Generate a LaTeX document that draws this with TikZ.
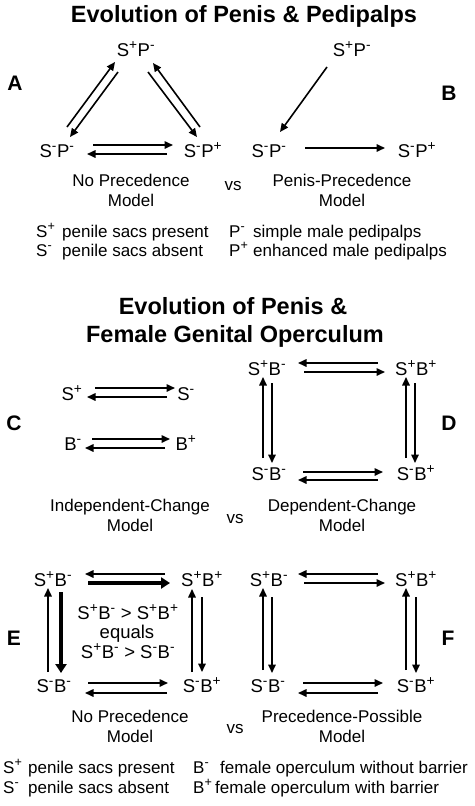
\documentclass[tikz,border=0pt]{standalone}
\usepackage{fontspec}
\setmainfont{Liberation Sans}
\usetikzlibrary{arrows.meta,calc}
\DeclareMathSizes{18.5}{18.5}{13.7}{10}
\DeclareMathSizes{17}{17}{12.6}{9}
\newcommand{\xplus}{\textsuperscript{+}}
\newcommand{\xminus}{\textsuperscript{-}}
\tikzset{
  txt/.style={font=\fontsize{17}{19.5}\selectfont, inner sep=0pt},
  st/.style={font=\fontsize{18.5}{19.5}\selectfont, inner sep=0pt, anchor=base},
  ml/.style={txt, align=center, anchor=center},
  vsn/.style={txt, anchor=base},
  ttl/.style={font=\bfseries\fontsize{23.5}{28}\selectfont, inner sep=0pt, anchor=base},
  plt/.style={font=\bfseries\fontsize{21}{24}\selectfont, inner sep=0pt, anchor=base},
  lg/.style={txt, anchor=base west},
  arr/.style={line width=1.6pt, -{Triangle[length=8.5pt,width=7.5pt]}},
  tarr/.style={line width=4.6pt, -{Triangle[length=9pt,width=11pt]}}
}
\begin{document}
\begin{tikzpicture}[x=1pt,y=-1pt]
\fill[white] (0,0) rectangle (474,806);
\useasboundingbox (0,0) rectangle (474,806);

% ---------- Titles and panel letters ----------
\node[ttl] (t1) at (244,22) {Evolution of Penis \& Pedipalps};
\node[ttl] (t2) at (233,314) {Evolution of Penis \&};
\node[ttl] (t3) at (235,342) {Female Genital Operculum};
\node[plt] (pA) at (15,90) {A};
\node[plt] (pB) at (449,100) {B};
\node[plt] (pC) at (14,430) {C};
\node[plt] (pD) at (449,430) {D};
\node[plt] (pE) at (14,645) {E};
\node[plt] (pF) at (448,645) {F};

% ---------- Panel A ----------
\node[st] (a1) at (136,56) {S\xplus P\xminus};
\node[st] (a2) at (57,157) {S\xminus P\xminus};
\node[st] (a3) at (203,157) {S\xminus P\xplus};
\draw[arr] ($(a2.base)+(10,-30)$) -- ($(a1.base)+(-21,6)$);
\draw[arr] ($(a1.base)+(-18,16)$) -- ($(a2.base)+(13,-20)$);
\draw[arr] ($(a1.base)+(12,16)$) -- ($(a3.base)+(-6,-20)$);
\draw[arr] ($(a3.base)+(-3,-30)$) -- ($(a1.base)+(17,7)$);
\draw[arr] ($(a2.base)+(36,-12)$) -- ($(a3.base)+(-30,-12)$);
\draw[arr] ($(a3.base)+(-36,-3)$) -- ($(a2.base)+(30,-3)$);

% ---------- Panel B ----------
\node[st] (b1) at (352,56) {S\xplus P\xminus};
\node[st] (b2) at (269,157) {S\xminus P\xminus};
\node[st] (b3) at (417,157) {S\xminus P\xplus};
\draw[arr] ($(b1.base)+(-25,11)$) -- ($(b2.base)+(11,-25)$);
\draw[arr] ($(b2.base)+(36,-9)$) -- ($(b3.base)+(-32,-9)$);

\node[ml] (mA) at (131,190.5) {No Precedence\\Model};
\node[vsn] (vs1) at (233,190) {vs};
\node[ml] (mB) at (342,190.5) {Penis-Precedence\\Model};

% legend 1
\node[lg] (l1) at (36,237) {\makebox[26pt][l]{S\xplus}penile sacs present};
\node[lg] (l2) at (36,256) {\makebox[26pt][l]{S\xminus}penile sacs absent};
\node[lg] (l3) at (229,237) {\makebox[24pt][l]{P\xminus}simple male pedipalps};
\node[lg] (l4) at (229,256) {\makebox[24pt][l]{P\xplus}enhanced male pedipalps};

% ---------- Panel C ----------
\node[st] (c1) at (72,400) {S\xplus};
\node[st] (c2) at (186,400) {S\xminus};
\node[st] (c3) at (73,450) {B\xminus};
\node[st] (c4) at (186,450) {B\xplus};
\draw[arr] ($(c1.base)+(23,-12)$) -- ($(c2.base)+(-11,-12)$);
\draw[arr] ($(c2.base)+(-19,-3)$) -- ($(c1.base)+(15,-3)$);
\draw[arr] ($(c3.base)+(19,-11)$) -- ($(c4.base)+(-16,-11)$);
\draw[arr] ($(c4.base)+(-21,-2)$) -- ($(c3.base)+(12,-2)$);

% ---------- Panel D ----------
\node[st] (d1) at (267,375) {S\xplus B\xminus};
\node[st] (d2) at (416,375) {S\xplus B\xplus};
\node[st] (d3) at (269,480) {S\xminus B\xminus};
\node[st] (d4) at (416,480) {S\xminus B\xplus};
\draw[arr] ($(d2.base)+(-38,-12)$) -- ($(d1.base)+(31,-12)$);
\draw[arr] ($(d1.base)+(37,-3)$) -- ($(d2.base)+(-31,-3)$);
\draw[arr] ($(d3.base)+(-6,-22)$) -- ($(d1.base)+(-4,2)$);
\draw[arr] ($(d1.base)+(5,8)$) -- ($(d3.base)+(3,-17)$);
\draw[arr] ($(d4.base)+(-10,-22)$) -- ($(d2.base)+(-10,2)$);
\draw[arr] ($(d2.base)+(-1,8)$) -- ($(d4.base)+(-1,-17)$);
\draw[arr] ($(d3.base)+(34,-8)$) -- ($(d4.base)+(-33,-8)$);
\draw[arr] ($(d4.base)+(-38,0)$) -- ($(d3.base)+(29,0)$);

\node[ml] (mC) at (130,515.5) {Independent-Change\\Model};
\node[vsn] (vs2) at (235,523) {vs};
\node[ml] (mD) at (342,515.5) {Dependent-Change\\Model};

% ---------- Panel E ----------
\node[st] (e1) at (53,586) {S\xplus B\xminus};
\node[st] (e2) at (202,586) {S\xplus B\xplus};
\node[st] (e3) at (54,692) {S\xminus B\xminus};
\node[st] (e4) at (202,692) {S\xminus B\xplus};
\draw[arr] ($(e2.base)+(-37,-12)$) -- ($(e1.base)+(32,-12)$);
\draw[tarr] ($(e1.base)+(35,-3)$) -- ($(e2.base)+(-32,-3)$);
\draw[arr] ($(e3.base)+(-6,-20)$) -- ($(e1.base)+(-5,2)$);
\draw[tarr] ($(e1.base)+(8,6)$) -- ($(e3.base)+(7,-19)$);
\draw[arr] ($(e4.base)+(-10,-20)$) -- ($(e2.base)+(-10,3)$);
\draw[arr] ($(e2.base)+(0,11)$) -- ($(e4.base)+(0,-20)$);
\draw[arr] ($(e3.base)+(34,-9)$) -- ($(e4.base)+(-34,-9)$);
\draw[arr] ($(e4.base)+(-35,1)$) -- ($(e3.base)+(31,1)$);
\node[st] (eq1) at (128,619) {S\xplus B\xminus\ > S\xplus B\xplus};
\node[st] (eq2) at (127,638.5) {equals};
\node[st] (eq3) at (128,658) {S\xplus B\xminus\ > S\xminus B\xminus};

% ---------- Panel F ----------
\node[st] (f1) at (269,586) {S\xplus B\xminus};
\node[st] (f2) at (416,586) {S\xplus B\xplus};
\node[st] (f3) at (268,692) {S\xminus B\xminus};
\node[st] (f4) at (416,692) {S\xminus B\xplus};
\draw[arr] ($(f2.base)+(-38,-12)$) -- ($(f1.base)+(29,-12)$);
\draw[arr] ($(f1.base)+(35,-3)$) -- ($(f2.base)+(-31,-3)$);
\draw[arr] ($(f3.base)+(-5,-22)$) -- ($(f1.base)+(-6,2)$);
\draw[arr] ($(f1.base)+(3,11)$) -- ($(f3.base)+(4,-19)$);
\draw[arr] ($(f4.base)+(-10,-22)$) -- ($(f2.base)+(-10,2)$);
\draw[arr] ($(f2.base)+(0,11)$) -- ($(f4.base)+(0,-19)$);
\draw[arr] ($(f3.base)+(35,-9)$) -- ($(f4.base)+(-33,-9)$);
\draw[arr] ($(f4.base)+(-38,1)$) -- ($(f3.base)+(30,1)$);

\node[ml] (mE) at (130,726.5) {No Precedence\\Model};
\node[vsn] (vs3) at (235,733) {vs};
\node[ml] (mF) at (342,726.5) {Precedence-Possible\\Model};

% legend 2
\node[lg] (k1) at (3,773) {\makebox[25pt][l]{S\xplus}penile sacs present};
\node[lg] (k2) at (3,793) {\makebox[25pt][l]{S\xminus}penile sacs absent};
\node[lg] (k3) at (193,773) {\makebox[27pt][l]{B\xminus}female operculum without barrier};
\node[lg] (k4) at (193,793) {\makebox[22pt][l]{B\xplus}female operculum with barrier};
\end{tikzpicture}
\end{document}
